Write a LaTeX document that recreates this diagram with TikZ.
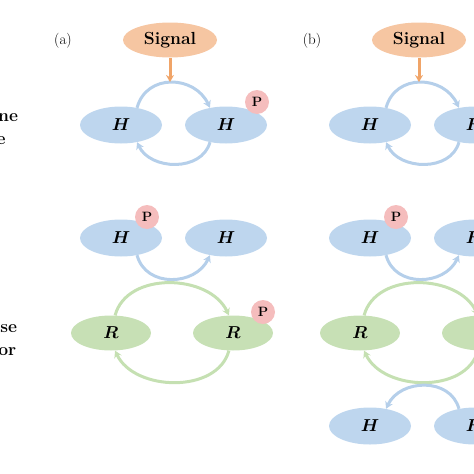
\documentclass[tikz,border=0pt]{standalone}
\usepackage{fontspec}
\usepackage{bm}
\usetikzlibrary{arrows.meta,shapes.geometric}
\definecolor{sigfill}{HTML}{F6C6A2}
\definecolor{sigline}{HTML}{F0A468}
\definecolor{hfill}{HTML}{BED6EE}
\definecolor{hline}{HTML}{B5CFEA}
\definecolor{rfill}{HTML}{C7E0B5}
\definecolor{rline}{HTML}{C5E0B2}
\definecolor{pfill}{HTML}{F5BDBD}
\begin{document}
\begin{tikzpicture}[x=1pt,y=1pt,
  hnode/.style={ellipse,fill=hfill,minimum width=82pt,minimum height=37pt,inner sep=0pt,font=\fontsize{17.5}{21}\selectfont},
  rnode/.style={ellipse,fill=rfill,minimum width=80pt,minimum height=35pt,inner sep=0pt,font=\fontsize{17.5}{21}\selectfont},
  signode/.style={ellipse,fill=sigfill,minimum width=94pt,minimum height=35pt,inner sep=0pt,font=\fontsize{17.5}{21}\selectfont\bfseries},
  pnode/.style={circle,fill=pfill,minimum size=24pt,inner sep=0pt,font=\fontsize{13.5}{15}\selectfont\bfseries},
  panellab/.style={font=\fontsize{15}{18}\selectfont},
  sidelab/.style={align=center,font=\fontsize{17.5}{23}\selectfont\bfseries},
  barrow/.style={draw=hline,line width=3pt,-{Stealth[length=7pt,width=8pt]}},
  garrow/.style={draw=rline,line width=3pt,-{Stealth[length=7pt,width=8pt]}},
  sarrow/.style={draw=sigline,line width=3pt,-{Stealth[length=7pt,width=8pt]}}
]
\useasboundingbox (0,0) rectangle (474,-474);
\clip (0,0) rectangle (474,-474);

% side labels
\node[sidelab] (hk) at (-21,-126.5) {Histidine\\kinase};
\node[sidelab] (rr) at (-23,-340) {Response\\regulator};

% ---------- panel (a) ----------
\node[panellab] (la) at (63,-41) {(a)};
\node[signode] (sa) at (170,-40) {Signal};
\node[hnode] (ha1) at (121,-125) {$\bm{H}$};
\node[hnode] (ha2) at (226,-125) {$\bm{H}$};
\node[hnode] (ha3) at (121,-238) {$\bm{H}$};
\node[hnode] (ha4) at (226,-238) {$\bm{H}$};
\node[rnode] (ra1) at (111,-333) {$\bm{R}$};
\node[rnode] (ra2) at (233,-333) {$\bm{R}$};
\coordinate (ta) at (170,-82);

\draw[barrow] (ha1.47) to[out=75,in=115,distance=36] (ha2.133);
\draw[barrow] (ha2.-133) to[out=-105,in=-65,distance=31] (ha1.-47);
\draw[barrow] (ha3.-47) to[out=-75,in=-115,distance=34] (ha4.-133);
\draw[garrow] (ra1.77) to[out=75,in=115,distance=46] (ra2.103);
\draw[garrow] (ra2.-103) to[out=-105,in=-65,distance=45] (ra1.-77);
\draw[sarrow] (sa) -- (ta);

\node[pnode] (pa1) at (257,-102) {P};
\node[pnode] (pa2) at (147,-217) {P};
\node[pnode] (pa3) at (263,-312) {P};

% ---------- panel (b) ----------
\node[panellab] (lb) at (312,-41) {(b)};
\node[signode] (sb) at (419,-40) {Signal};
\node[hnode] (hb1) at (370,-125) {$\bm{H}$};
\node[hnode] (hb2) at (475,-125) {$\bm{H}$};
\node[hnode] (hb3) at (370,-238) {$\bm{H}$};
\node[hnode] (hb4) at (475,-238) {$\bm{H}$};
\node[rnode] (rb1) at (360,-333) {$\bm{R}$};
\node[rnode] (rb2) at (482,-333) {$\bm{R}$};
\node[hnode] (hb5) at (370,-426) {$\bm{H}$};
\node[hnode] (hb6) at (475,-426) {$\bm{H}$};
\coordinate (tb) at (419,-82);

\draw[barrow] (hb1.47) to[out=75,in=115,distance=36] (hb2.133);
\draw[barrow] (hb2.-133) to[out=-105,in=-65,distance=31] (hb1.-47);
\draw[barrow] (hb3.-47) to[out=-75,in=-115,distance=34] (hb4.-133);
\draw[garrow] (rb1.77) to[out=75,in=115,distance=46] (rb2.103);
\draw[garrow] (rb2.-103) to[out=-105,in=-65,distance=45] (rb1.-77);
\draw[barrow] (hb6.133) to[out=105,in=65,distance=33] (hb5.47);
\draw[sarrow] (sb) -- (tb);

\node[pnode] (pb1) at (506,-102) {P};
\node[pnode] (pb2) at (396,-217) {P};
\node[pnode] (pb3) at (512,-312) {P};
\end{tikzpicture}
\end{document}
